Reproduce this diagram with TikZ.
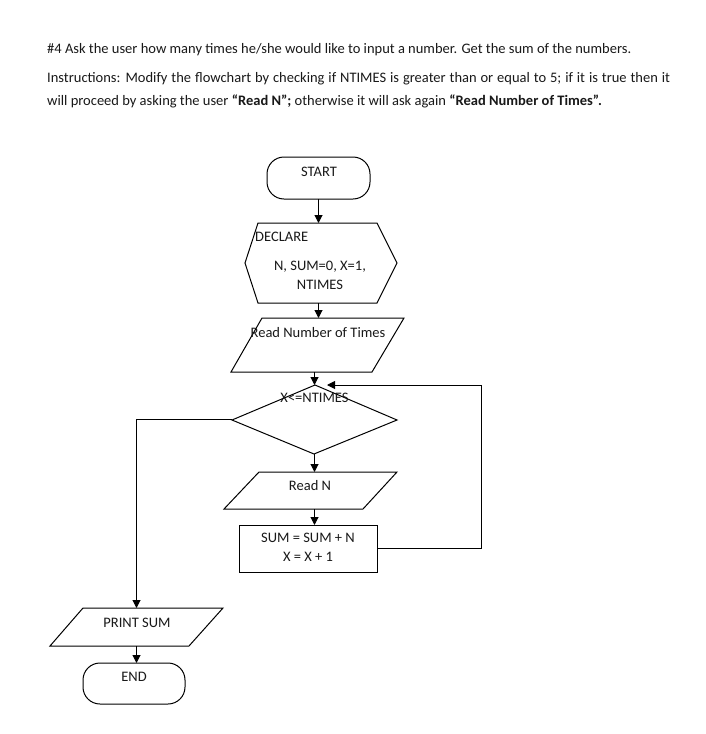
\documentclass[tikz,border=0pt]{standalone}
\usepackage{fontspec}
\setmainfont{Carlito}
\usetikzlibrary{arrows.meta,calc}
\begin{document}
\begin{tikzpicture}[x=1pt,y=-1pt,
  font=\fontsize{14.5}{17}\selectfont,
  shp/.style={draw=black, line width=1pt},
  anch/.style={inner sep=0pt, outer sep=0pt},
  term/.style={draw=black, line width=1pt, rounded corners=17pt, inner sep=0pt, outer sep=0pt},
  procbox/.style={draw=black, line width=1pt, inner sep=0pt, outer sep=0pt},
  txt/.style={inner sep=0pt, text=black!90},
  arr/.style={draw=black, line width=1pt, -{Triangle[length=8pt,width=8pt]}}]
\fill[white] (0,0) rectangle (705,734);
\useasboundingbox (0,0) rectangle (705,734);

% header text
\node[txt, anchor=base west] (h1) at (47,53) {\#4 Ask the user how many times he/she would like to input a number. Get the sum of the numbers.};
\node[txt, anchor=base west] (h2) at (47,82) {\spaceskip=0.27em plus 0.1em Instructions: Modify the flowchart by checking if NTIMES is greater than or equal to 5; if it is true then it};
\node[txt, anchor=base west] (h3) at (47,105) {will proceed by asking the user \textbf{“Read N”;} otherwise it will ask again \textbf{“Read Number of Times”.}};

% START
\node[term, minimum width=103pt, minimum height=42pt] (start) at (318.5,178) {};
\node[txt] (tstart) at (319,172) {START};

% DECLARE hexagon
\node[anch, minimum width=152pt, minimum height=80pt] (hex) at (321,263) {};
\draw[shp] (245,263) -- (258,223) -- (377,223) -- (397,263) -- (377,303) -- (258,303) -- cycle;
\node[txt, anchor=west] (tdecl) at (255,237) {DECLARE};
\node[txt] (tvars1) at (320,267) {N, SUM=0, X=1,};
\node[txt] (tvars2) at (320,285) {NTIMES};

% Read Number of Times
\node[anch, minimum width=173pt, minimum height=54pt] (rnt) at (317.5,345) {};
\draw[shp] (262,318) -- (404,318) -- (372,372) -- (231,372) -- cycle;
\node[txt] (trnt) at (318,333) {Read Number of Times};

% Decision
\node[anch, minimum width=165pt, minimum height=69pt] (dia) at (314.5,419.5) {};
\draw[shp] (315,385) -- (397,420) -- (314,454) -- (232,420) -- cycle;
\node[txt] (tdia) at (314.5,398) {X<=NTIMES};

% Read N
\node[anch, minimum width=173pt, minimum height=37pt] (rn) at (310.5,490.5) {};
\draw[shp] (259,472) -- (397,472) -- (363,509) -- (224,509) -- cycle;
\node[txt] (trn) at (310,486) {Read N};

% SUM process
\node[procbox, minimum width=138pt, minimum height=47pt] (sum) at (308,548.5) {};
\node[txt] (tsum1) at (308,538) {SUM = SUM + N};
\node[txt] (tsum2) at (308,557) {X = X + 1};

% PRINT SUM
\node[anch, minimum width=173pt, minimum height=38pt] (ps) at (136.5,627) {};
\draw[shp] (83,608) -- (223,608) -- (189,646) -- (50,646) -- cycle;
\node[txt] (tps) at (137,623) {PRINT SUM};

% END
\node[term, minimum width=102pt, minimum height=41pt] (end) at (134,683.5) {};
\node[txt] (tend) at (134,677) {END};

% connectors
\coordinate (loop) at (481,385);
\coordinate (loopend) at (327,385);
\draw[arr] (start.south) -- (start.south |- hex.north);
\draw[arr] (start.south |- hex.south) -- (start.south |- rnt.north);
\draw[arr] (dia.north |- rnt.south) -- (dia.north);
\draw[arr] (dia.south) -- (dia.south |- rn.north);
\draw[arr] (dia.south |- rn.south) -- (dia.south |- sum.north);
\draw[arr] (sum.east) -- (sum.east -| loop) -- (loop) -- (loopend);
\draw[arr] (dia.west) -| (ps.north);
\draw[arr] (ps.south) -- (ps.south |- end.north);
\end{tikzpicture}
\end{document}
